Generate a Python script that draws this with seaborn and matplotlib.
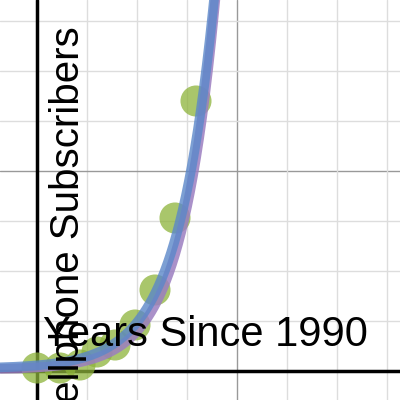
import matplotlib
matplotlib.use('Agg')
import matplotlib.pyplot as plt
import seaborn as sns
import numpy as np
import pandas as pd

# data points (years since 1990, subscribers in grid units)
years = [0.0, 0.46, 0.86, 1.2, 1.56, 1.96, 2.36, 2.76, 3.18]
subs = [0.06, 0.06, 0.12, 0.38, 0.52, 0.92, 1.62, 3.06, 5.4]

# fitted curves
xs = np.linspace(-0.8, 4.0, 400)
blue = 0.05 + 0.062 * np.exp(1.35 * xs)
purple = 0.03 + 0.042 * np.exp(1.45 * xs)

sns.set_style('white')
plt.rcParams['font.family'] = ['Liberation Sans', 'DejaVu Sans']

fig = plt.figure(figsize=(4, 4), dpi=100)
ax = fig.add_axes([0, 0, 1, 1])
xmin, xmax = -0.74, 7.26
ymin, ymax = -0.58, 7.42
ax.set_xlim(xmin, xmax)
ax.set_ylim(ymin, ymax)

for g in range(0, 8):
    c = '#999999' if g % 4 == 0 else '#dddddd'
    ax.axvline(g, color=c, lw=1, zorder=0)
    ax.axhline(g, color=c, lw=1, zorder=0)
ax.axvline(0, color='black', lw=2.5, zorder=1)
ax.axhline(0, color='black', lw=2.5, zorder=1)

df = pd.DataFrame({'x': years, 'y': subs})
sns.scatterplot(data=df, x='x', y='y', s=500, color='#8db33a', alpha=0.75,
                edgecolor='none', ax=ax, zorder=2)
ax.plot(xs, purple, color='#9b7ec0', lw=7, alpha=0.85, zorder=3)
ax.plot(xs, blue, color='#5b87c9', lw=7, alpha=0.8, zorder=4)

ax.text(0.12, 0.72, 'Years Since 1990', fontsize=30, color='black',
        va='center', ha='left', zorder=5)
ax.text(0.62, 6.9, 'Cellphone Subscribers', fontsize=29, rotation=90,
        color='black', va='top', ha='center', zorder=5)

ax.set_xticks([])
ax.set_yticks([])
ax.set_xlabel('')
ax.set_ylabel('')
for s in ax.spines.values():
    s.set_visible(False)

fig.savefig('out.png', dpi=100)
